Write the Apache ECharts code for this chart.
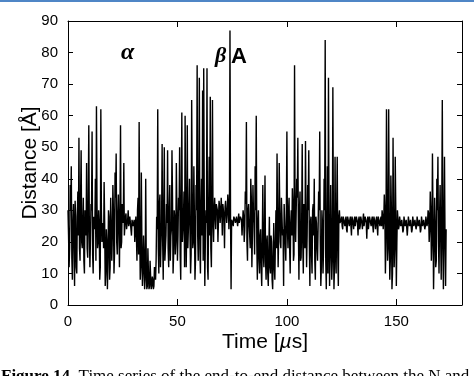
<!DOCTYPE html>
<html>
<head>
<meta charset="utf-8">
<script src="https://cdn.jsdelivr.net/npm/echarts@6/dist/echarts.min.js"></script>
<style>
  html, body { margin: 0; padding: 0; background: #fff; }
  #chart { width: 474px; height: 376px; }
</style>
</head>
<body>
<div id="chart"></div>
<script>
// end-to-end distance (Å), every 0.5 µs
// distance = outer envelope (spikes), core = dense inner band sampled in between
const timeStep = 0.5;
const distance = [
  30,12,38,44,8,32,6,28,10,36,53,14,49,18,34,10,30,45,15,57,
  12,32,55,10,28,40,63,18,30,8,62,20,26,39,6,24,5,30,8,34,
  14,38,10,42,48,16,35,12,57,20,30,45,22,29,24,30,25,28,22,27,
  26,20,28,14,34,58,8,42,6,22,5,40,5,18,5,14,5,9,5,12,
  8,28,62,10,35,20,51,8,50,18,32,49,12,38,22,49,10,30,16,45,
  14,34,50,8,61,20,36,60,12,57,24,40,10,65,18,44,8,38,76,14,
  72,10,40,68,75,6,30,75,8,47,66,12,65,20,34,24,32,20,33,26,
  34,22,32,18,33,26,35,24,87,5,27,25,28,26,28,25,29,26,28,22,
  30,20,36,58,14,32,22,40,12,38,26,44,60,8,30,10,24,6,38,12,
  41,8,22,6,28,10,20,5,26,8,30,48,12,45,20,34,22,6,32,14,
  55,18,34,10,30,37,14,76,20,40,53,8,36,15,51,10,30,52,12,38,
  49,6,28,10,32,40,8,26,14,36,55,6,30,10,40,84,5,44,72,6,
  38,8,69,5,47,10,47,6,30,26,28,24,27,25,28,23,27,25,28,22,
  27,24,28,25,27,22,28,25,27,24,29,25,27,21,28,24,27,25,28,23,
  27,24,28,22,27,25,28,30,24,35,10,62,14,62,8,41,5,53,12,47,
  6,30,24,28,25,27,23,28,25,27,22,28,25,27,23,28,25,27,24,28,
  25,27,23,28,25,27,24,28,25,30,20,36,14,48,5,34,12,40,47,10,
  38,8,65,5,47,6
];
const core = [
  22,18,30,15,26,20,33,12,28,22,18,34,20,26,14,30,22,18,32,24,
  20,30,16,28,24,14,32,20,26,12,30,22,18,26,10,20,14,28,12,24,
  22,30,16,34,20,28,24,30,18,32,26,22,28,24,27,25,28,24,27,25,
  27,24,22,30,16,26,12,20,10,16,8,14,6,10,6,9,6,8,6,10,
  14,24,18,32,12,26,20,30,14,22,26,18,30,14,24,34,16,28,20,30,
  22,30,16,34,20,28,12,32,24,18,30,22,16,36,20,28,14,30,22,34,
  18,30,22,14,34,20,26,12,30,22,18,32,26,30,28,32,30,27,31,29,
  30,32,28,31,33,29,32,30,28,27,26,28,27,26,28,27,26,28,27,26,
  28,24,32,20,30,26,18,34,22,28,16,30,20,26,14,22,12,20,16,24,
  14,20,10,18,12,22,8,16,12,20,18,26,22,30,18,28,24,32,20,28,
  24,30,18,26,22,32,16,28,20,34,24,30,14,26,20,32,18,28,22,30,
  20,26,16,30,22,14,28,18,24,30,20,12,26,18,30,14,22,10,28,16,
  22,14,26,12,20,30,16,28,26,27,25,28,26,27,24,28,26,27,25,28,
  26,27,25,28,26,27,24,28,26,27,25,28,26,27,24,28,26,27,25,28,
  26,27,25,28,26,27,25,28,27,30,20,32,18,28,14,30,10,26,18,30,
  20,27,25,28,26,27,24,28,26,27,25,28,26,27,24,28,26,27,25,28,
  26,27,24,28,26,27,25,28,26,29,24,30,20,28,16,26,14,30,20,28,
  22,30,18,28,20,24
];
const xTicks = [0, 50, 100, 150];
const yTicks = [0, 10, 20, 30, 40, 50, 60, 70, 80, 90];

const points = [];
distance.forEach((d, i) => {
  points.push([i * timeStep, d]);
  points.push([i * timeStep + timeStep / 2, core[i]]);
});

const chart = echarts.init(document.getElementById('chart'));

const labelFont = { color: '#000', fontFamily: 'Liberation Sans, Arial', fontSize: 15 };
// onZero off, otherwise the top/right axes snap onto the bottom/left ones
const frameLine = () => ({ show: true, onZero: false, lineStyle: { color: '#000', width: 1 } });
const tickOf = (len, list) => ({
  show: true, inside: true, length: len, lineStyle: { color: '#000' },
  customValues: list
});

chart.setOption({
  animation: false,
  grid: { left: 68, right: 12, top: 21, bottom: 71 },
  xAxis: [
    {
      type: 'value', min: 0, max: 180, interval: 50,
      name: 'Time [{mu|µ}s]', nameLocation: 'middle', nameGap: 27, nameMoveOverlap: false,
      nameTextStyle: {
        color: '#000', fontFamily: 'Liberation Sans, Arial', fontSize: 21,
        rich: { mu: { fontStyle: 'italic', fontSize: 21, fontFamily: 'Liberation Sans, Arial', color: '#000' } }
      },
      axisLine: frameLine(),
      axisTick: tickOf(6, xTicks),
      axisLabel: Object.assign({ margin: 9, customValues: xTicks }, labelFont),
      splitLine: { show: false }
    },
    {
      type: 'value', min: 0, max: 180, interval: 50, position: 'top',
      axisLine: frameLine(),
      axisTick: tickOf(6, xTicks),
      axisLabel: { show: false },
      splitLine: { show: false }
    }
  ],
  yAxis: [
    {
      type: 'value', min: 0, max: 90, interval: 10,
      name: 'Distance [Å]', nameLocation: 'middle', nameGap: 27, nameMoveOverlap: false,
      nameTextStyle: { color: '#000', fontFamily: 'Liberation Sans, Arial', fontSize: 21 },
      axisLine: frameLine(),
      axisTick: tickOf(5, yTicks),
      axisLabel: Object.assign({ margin: 10 }, labelFont),
      splitLine: { show: false }
    },
    {
      type: 'value', min: 0, max: 90, interval: 10, position: 'right',
      axisLine: frameLine(),
      axisTick: tickOf(5, yTicks),
      axisLabel: { show: false },
      splitLine: { show: false }
    }
  ],
  graphic: [
    { type: 'rect', left: 0, top: 0, shape: { width: 474, height: 2 }, style: { fill: '#4f86c6' } },
    {
      type: 'text', left: 121, top: 41,
      style: { text: 'α', font: 'italic bold 24px "Liberation Serif", serif', fill: '#000' }
    },
    {
      type: 'text', left: 215, top: 45,
      style: { text: 'β', font: 'italic bold 22px "Liberation Serif", serif', fill: '#000' }
    },
    {
      type: 'text', left: 231, top: 46,
      style: { text: 'A', font: 'bold 22px "Liberation Sans", Arial', fill: '#000' }
    },
    {
      type: 'text', left: 1, top: 368,
      style: {
        text: '{b|Figure 14.} Time series of the end-to-end distance between the N and',
        fontFamily: 'Liberation Serif', fontSize: 17, fill: '#000',
        rich: { b: { fontWeight: 'bold', fontFamily: 'Liberation Serif', fontSize: 17 } }
      }
    }
  ],
  series: [
    {
      type: 'line',
      data: points,
      showSymbol: false,
      sampling: null,
      lineStyle: { color: '#000', width: 1.4 }
    }
  ]
});
</script>
</body>
</html>
